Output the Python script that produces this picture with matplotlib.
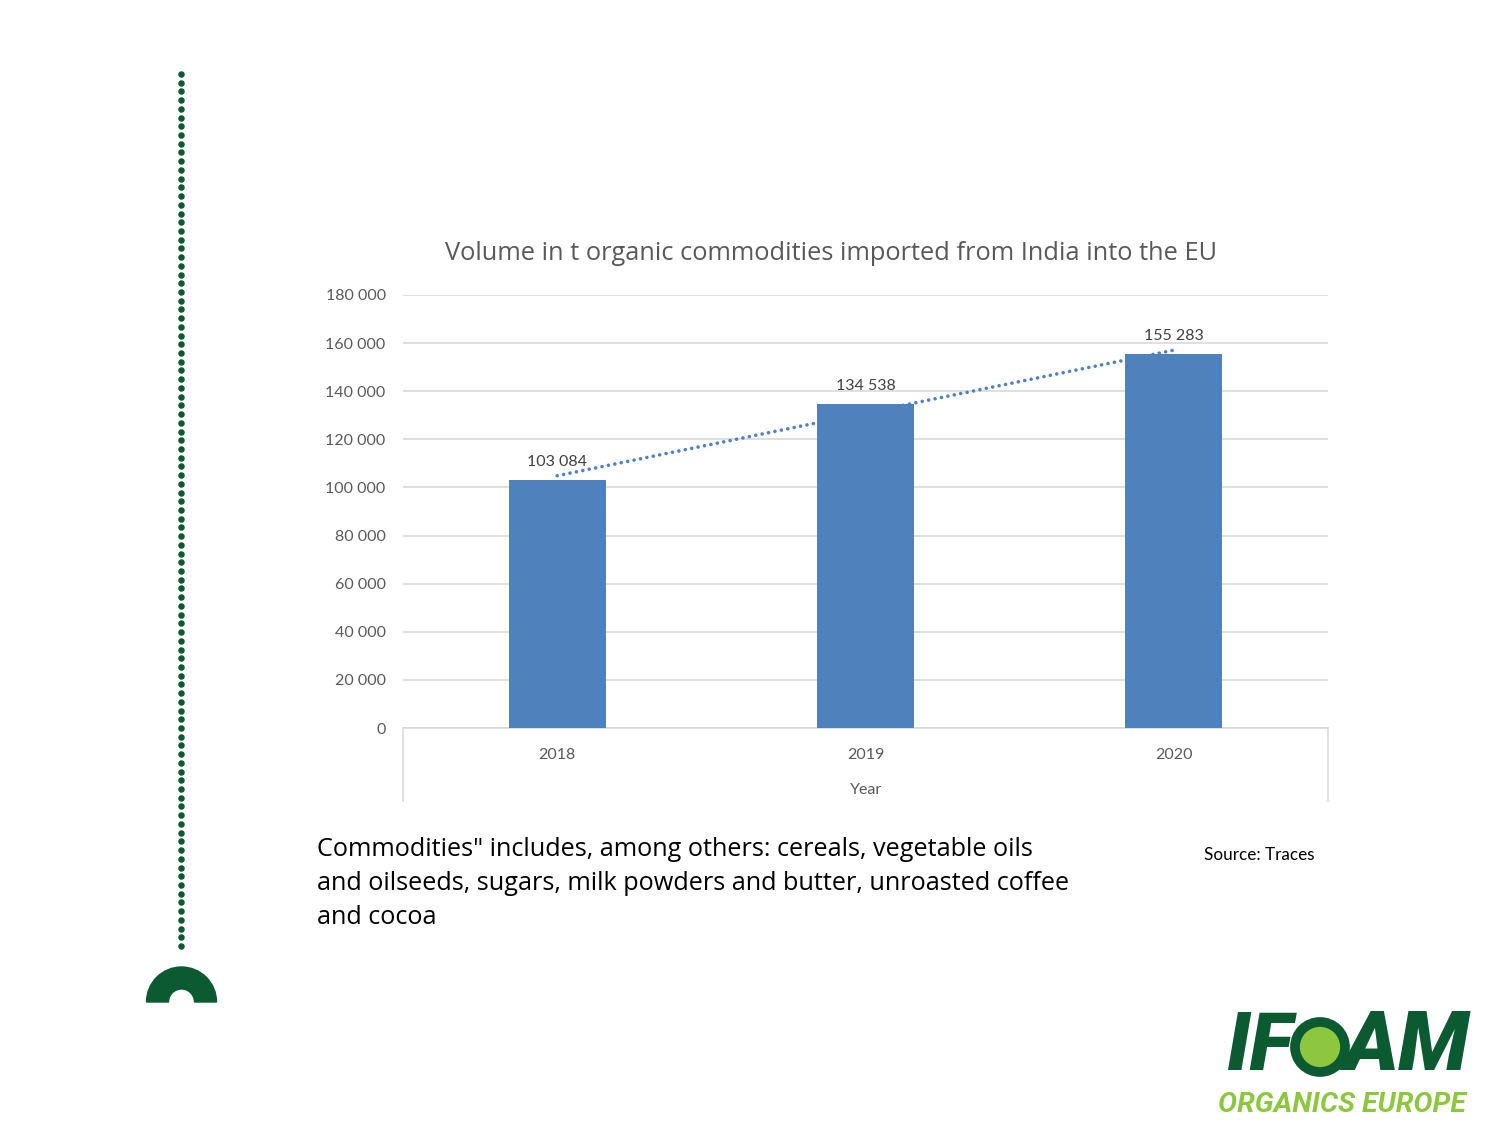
import numpy as np
import matplotlib
matplotlib.use("Agg")
import matplotlib.pyplot as plt
from matplotlib.patches import Wedge, Circle
from matplotlib.lines import Line2D

# --- data ---
years = ["2018", "2019", "2020"]
volumes = [103084, 134538, 155283]
y_ticks = [0, 20000, 40000, 60000, 80000, 100000, 120000, 140000, 160000, 180000]

BAR_BLUE = "#4f81bd"
GRID_GREY = "#d9d9d9"
TEXT_GREY = "#595959"
DARK_GREEN = "#0b5a32"
LIME = "#8dc63f"

plt.rcParams['font.family'] = ['Lato', 'DejaVu Sans']
WIDE = ['Open Sans', 'DejaVu Sans']

W, H = 1500, 1125
fig = plt.figure(figsize=(15, 11.25), dpi=100)


def fx(px):
    return px / W


def fy(py):
    return 1 - py / H


# --- main chart ---
ax = fig.add_axes([fx(403), fy(728), fx(1328) - fx(403), fy(295) - fy(728)])
x = np.arange(len(years))
ax.bar(x, volumes, width=0.315, color=BAR_BLUE, zorder=3)

# linear trendline (Excel style), drawn behind the bars
coef = np.polyfit(x, volumes, 1)
ax.plot(x, np.polyval(coef, x), linestyle=(0, (0.01, 1.8)), color=BAR_BLUE,
        linewidth=2.6, zorder=2, dash_capstyle='round')

for xi, v in zip(x, volumes):
    ax.annotate(f"{v:,}".replace(",", " "), (xi, v), xytext=(0, 8),
                textcoords="offset points", ha="center", va="bottom",
                fontsize=11.5, color="#404040", zorder=4)

ax.set_xlim(-0.5, 2.5)
ax.set_ylim(0, 180000)
ax.set_yticks(y_ticks)
ax.set_yticklabels([f"{t:,}".replace(",", " ") for t in y_ticks])
ax.set_xticks(x)
ax.set_xticklabels(years)
ax.tick_params(axis="both", length=0, labelsize=11.5, labelcolor=TEXT_GREY)
ax.tick_params(axis="y", pad=12.5)
ax.tick_params(axis="x", pad=14.5)
ax.grid(axis="y", color=GRID_GREY, linewidth=1.2, zorder=0)
for side in ["top", "right", "left"]:
    ax.spines[side].set_visible(False)
ax.spines["bottom"].set_color(GRID_GREY)
ax.spines["bottom"].set_linewidth(1.2)
ax.set_axisbelow(True)

# vertical frame lines below the axis
for px in (403, 1328):
    fig.add_artist(Line2D([fx(px), fx(px)], [fy(728), fy(801)], color=GRID_GREY, linewidth=1.2))

fig.text(fx(866), fy(790), "Year", ha="center", va="center", fontsize=11.5, color=TEXT_GREY)
fig.text(fx(831), fy(254), "Volume in t organic commodities imported from India into the EU",
         ha="center", va="center", fontsize=18.3, color=TEXT_GREY, family=WIDE)

# --- notes ---
fig.text(fx(317), fy(837), 'Commodities" includes, among others: cereals, vegetable oils\n'
         'and oilseeds, sugars, milk powders and butter, unroasted coffee\nand cocoa',
         ha="left", va="top", fontsize=18.2, color="black", linespacing=1.47, family=WIDE)
fig.text(fx(1204), fy(855), "Source: Traces", ha="left", va="center", fontsize=12.3, color="black")

# --- left decoration ---
deco = fig.add_axes([0, 0, 1, 1], zorder=-1)
deco.set_xlim(0, W)
deco.set_ylim(H, 0)
deco.axis("off")
dots_y = np.arange(74, 952, 8.72)
deco.scatter(np.full(len(dots_y), 181), dots_y, s=22, color=DARK_GREEN, linewidths=0)
deco.add_patch(Wedge((181.5, 1002), 35, 180, 360, width=22, color=DARK_GREEN))

# --- logo ---
deco.text(1226, 1048, "IF", fontsize=58, fontweight="black", style="italic",
          color=DARK_GREEN, ha="left", va="center", family=["Roboto", "DejaVu Sans"])
deco.add_patch(Circle((1320, 1047), 25, facecolor=LIME, edgecolor=DARK_GREEN, linewidth=7))
deco.text(1344, 1048, "AM", fontsize=60, fontweight="black", style="italic",
          color=DARK_GREEN, ha="left", va="center", family=["Roboto", "DejaVu Sans"])
deco.text(1342, 1104, "ORGANICS EUROPE", fontsize=20.5, fontweight="bold", style="italic",
          color=LIME, ha="center", va="center", family=["Roboto", "DejaVu Sans"])

fig.savefig("out.png", dpi=100, facecolor="white")
